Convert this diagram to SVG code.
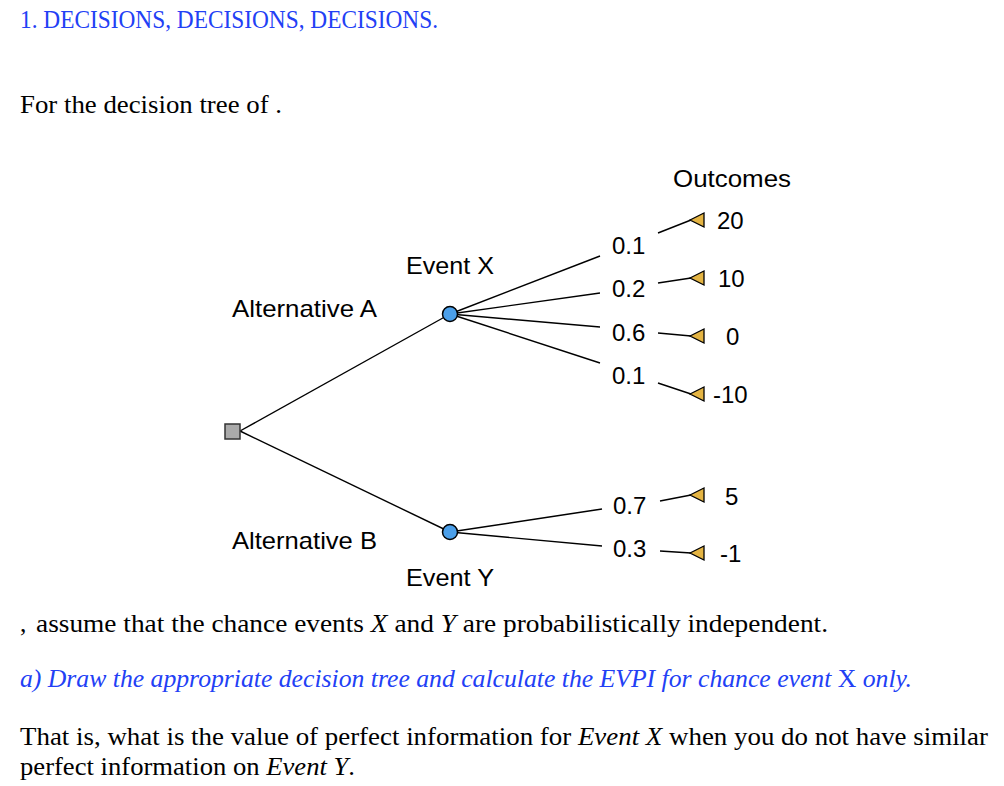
<svg xmlns="http://www.w3.org/2000/svg" width="1004" height="786" viewBox="0 0 1004 786">
<style>
.body{font-family:"Liberation Serif","Times New Roman",serif;font-size:25.5px;fill:#000}
.title{font-size:24.5px}
.blue{fill:#2240f5}
.it{font-style:italic}
.lab{font-family:"Liberation Sans",Arial,Helvetica,sans-serif;font-size:24px;fill:#000}
.edge{stroke:#000;stroke-width:1.4;fill:none}
.chance{fill:#4b9fe9;stroke:#000;stroke-width:1.5}
.decision{fill:#aaaaaa;stroke:#333;stroke-width:1.5}
.term{fill:#e4b443;stroke:#000;stroke-width:1.3}
</style>
<rect width="1004" height="786" fill="#fff"/>
<text class="body title blue" x="20" y="28" textLength="418" lengthAdjust="spacingAndGlyphs">1. DECISIONS, DECISIONS, DECISIONS.</text>
<text class="body" x="20" y="113" textLength="262" lengthAdjust="spacingAndGlyphs">For the decision tree of .</text>

<g id="connectors">
<line class="edge" x1="240" y1="431" x2="450" y2="314"/>
<line class="edge" x1="240" y1="431" x2="450" y2="532"/>
<line class="edge" x1="450" y1="314" x2="600" y2="256"/>
<line class="edge" x1="450" y1="314" x2="600" y2="293"/>
<line class="edge" x1="450" y1="314" x2="600" y2="327"/>
<line class="edge" x1="450" y1="314" x2="600" y2="363"/>
<line class="edge" x1="450" y1="532" x2="602" y2="509"/>
<line class="edge" x1="450" y1="532" x2="602" y2="546"/>
<line class="edge" x1="658" y1="233" x2="691" y2="220"/>
<line class="edge" x1="658" y1="283" x2="691" y2="278"/>
<line class="edge" x1="658" y1="333" x2="691" y2="336"/>
<line class="edge" x1="658" y1="383" x2="691" y2="394"/>
<line class="edge" x1="660" y1="501" x2="691" y2="495"/>
<line class="edge" x1="660" y1="551" x2="691" y2="553"/>
</g>

<g id="decision">
<rect class="decision" x="225" y="424" width="15" height="15"/>
</g>
<g id="eventX">
<circle class="chance" cx="450" cy="314" r="7.5"/>
<text class="lab" x="406" y="274" textLength="88" lengthAdjust="spacingAndGlyphs">Event X</text>
</g>
<g id="eventY">
<circle class="chance" cx="450" cy="532" r="7.5"/>
<text class="lab" x="406" y="586" textLength="88" lengthAdjust="spacingAndGlyphs">Event Y</text>
</g>
<g id="altA"><text class="lab" x="232" y="317" textLength="145" lengthAdjust="spacingAndGlyphs">Alternative A</text></g>
<g id="altB"><text class="lab" x="232" y="549" textLength="145" lengthAdjust="spacingAndGlyphs">Alternative B</text></g>

<g id="probs">
<text class="lab" x="612" y="254">0.1</text>
<text class="lab" x="612" y="297">0.2</text>
<text class="lab" x="612" y="341">0.6</text>
<text class="lab" x="612" y="384">0.1</text>
<text class="lab" x="613" y="514">0.7</text>
<text class="lab" x="613" y="557">0.3</text>
</g>

<g id="outcomes">
<text class="lab" x="673" y="187" textLength="118" lengthAdjust="spacingAndGlyphs">Outcomes</text>
<g id="o20"><polygon class="term" points="690,220 704,213 704,227"/><text class="lab" x="717" y="229">20</text></g>
<g id="o10"><polygon class="term" points="690,278 704,271 704,285"/><text class="lab" x="718" y="287">10</text></g>
<g id="o0"><polygon class="term" points="690,336 704,329 704,343"/><text class="lab" x="726" y="345">0</text></g>
<g id="om10"><polygon class="term" points="690,394 704,387 704,401"/><text class="lab" x="713" y="403">-10</text></g>
<g id="o5"><polygon class="term" points="690,495 704,488 704,502"/><text class="lab" x="725" y="505">5</text></g>
<g id="om1"><polygon class="term" points="690,553 704,546 704,560"/><text class="lab" x="720" y="562">-1</text></g>
</g>

<text class="body" x="20" y="632">,</text>
<text class="body" x="36" y="632" textLength="792" lengthAdjust="spacingAndGlyphs">assume that the chance events <tspan class="it">X</tspan> and <tspan class="it">Y</tspan> are probabilistically independent.</text>
<text class="body blue" x="20" y="687" textLength="892" lengthAdjust="spacingAndGlyphs"><tspan class="it">a) Draw the appropriate decision tree and calculate the EVPI for chance event </tspan>X<tspan class="it"> only.</tspan></text>
<text class="body" x="20" y="745" textLength="968" lengthAdjust="spacingAndGlyphs">That is, what is the value of perfect information for <tspan class="it">Event X</tspan> when you do not have similar</text>
<text class="body" x="20" y="775" textLength="335" lengthAdjust="spacingAndGlyphs">perfect information on <tspan class="it">Event Y</tspan>.</text>
</svg>
